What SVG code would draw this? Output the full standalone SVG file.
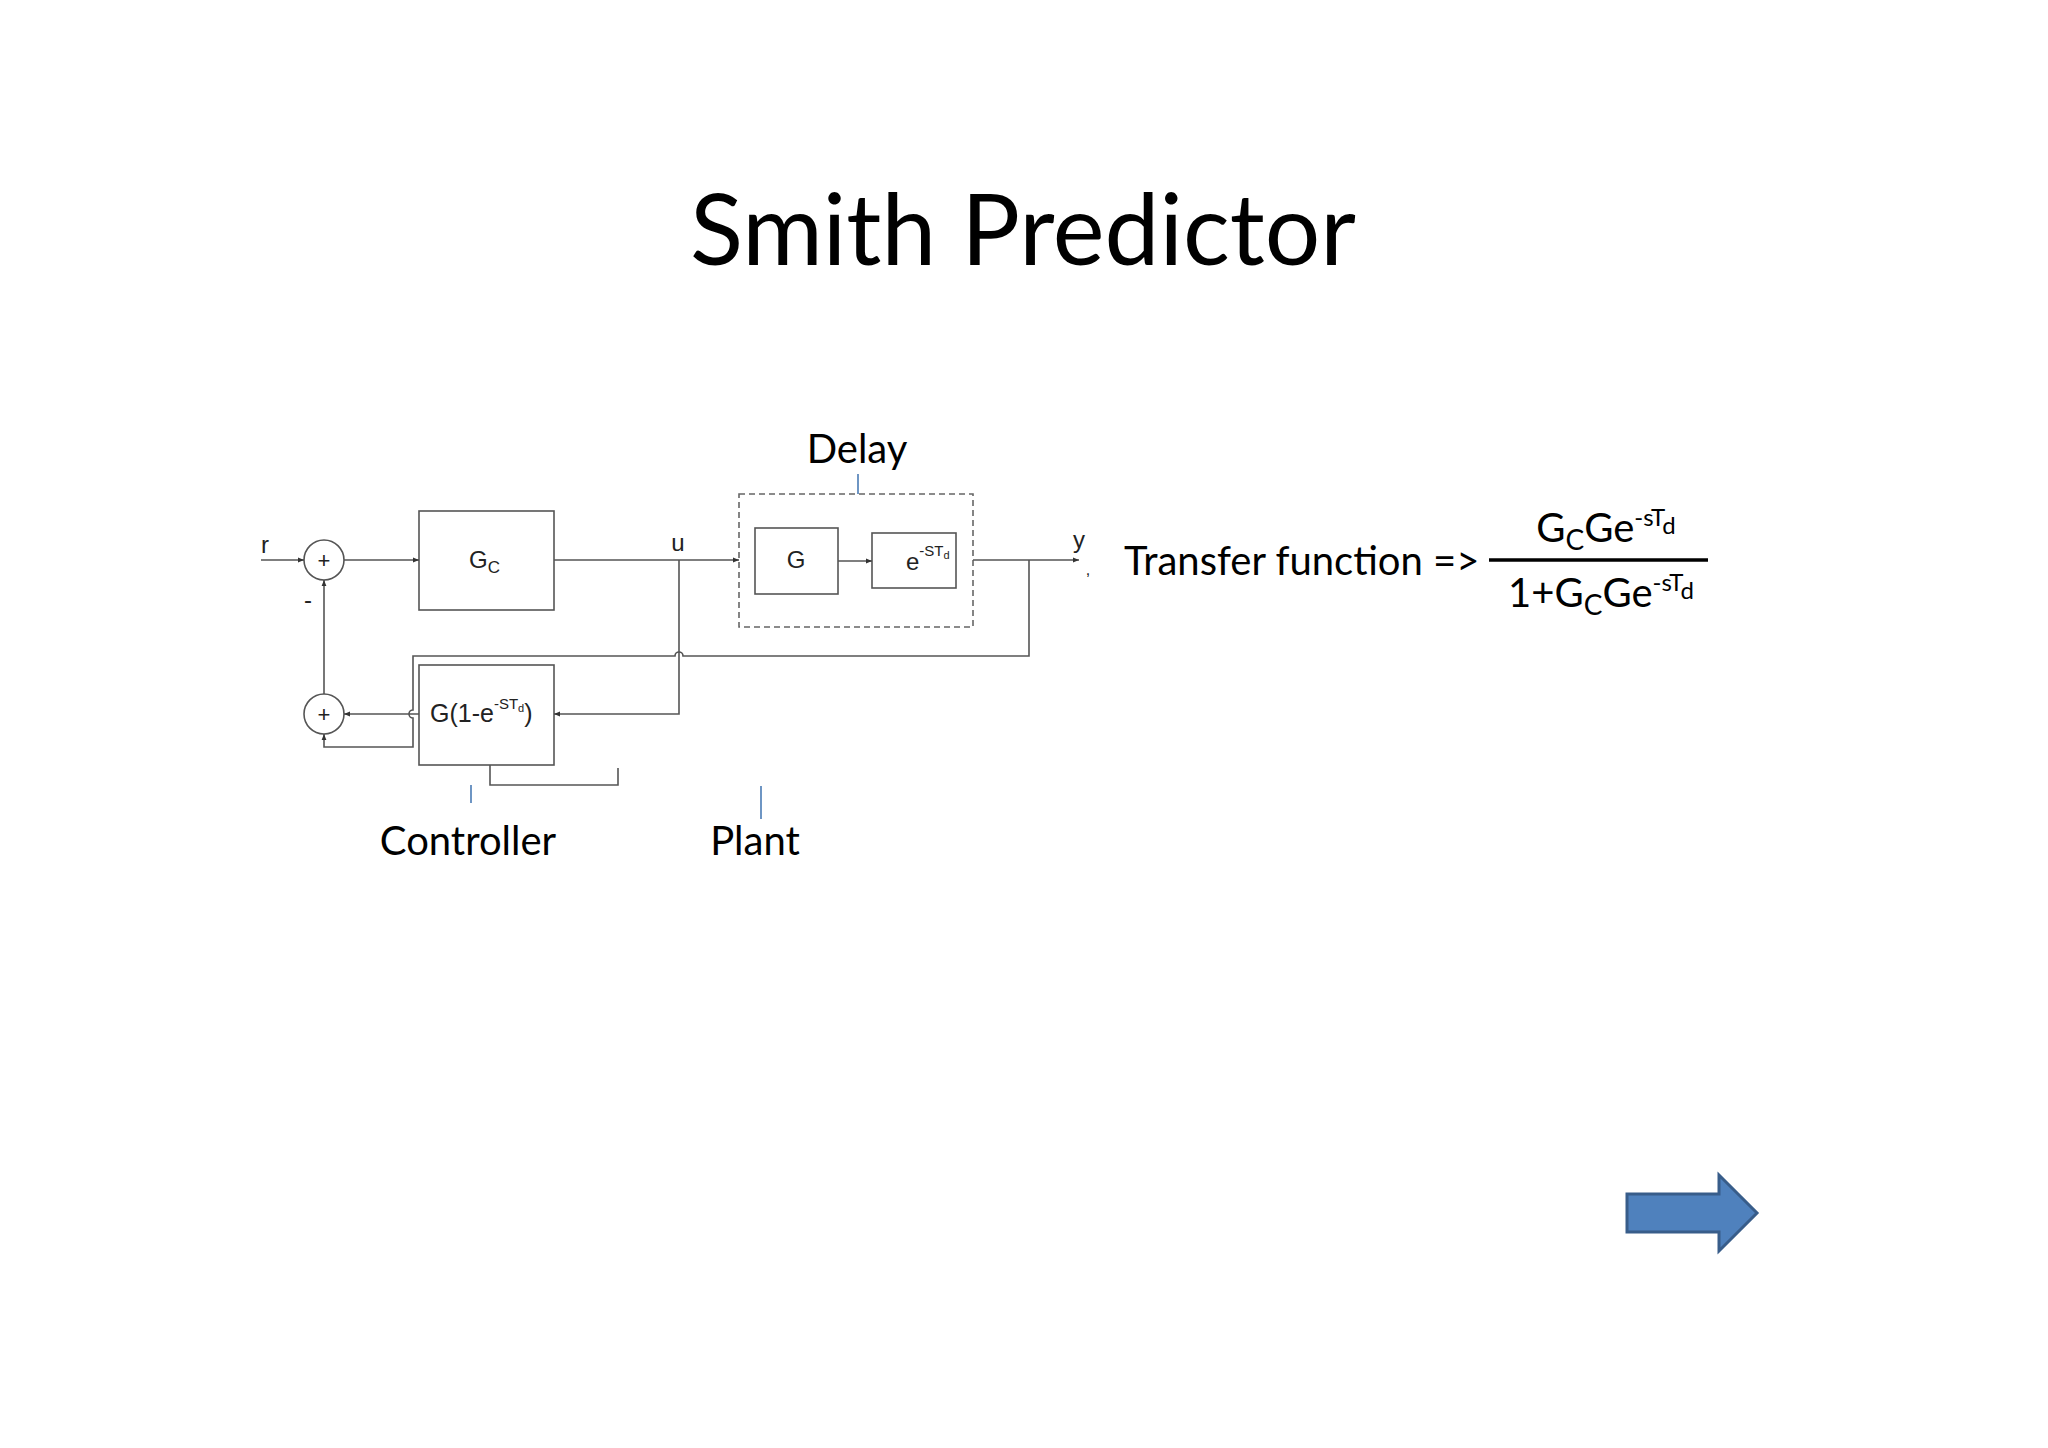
<svg xmlns="http://www.w3.org/2000/svg" width="2048" height="1448" viewBox="0 0 2048 1448">
<style>
.t{font-family:Lato,"Open Sans",sans-serif;fill:#000}
.a{font-family:"Liberation Sans",Arial,sans-serif;fill:#222}
.b{fill:#fff;stroke:#555;stroke-width:1.6}
.w{fill:none;stroke:#555;stroke-width:1.6}
.tick{stroke:#4a7bb5;stroke-width:1.6}
</style>
<defs>
<marker id="ar" viewBox="0 0 10 10" refX="10" refY="5" markerWidth="6" markerHeight="6" orient="auto" markerUnits="userSpaceOnUse"><path d="M0,1 L10,5 L0,9 z" fill="#333"/></marker>
</defs>
<rect width="2048" height="1448" fill="#fff"/>
<text class="t" x="1023" y="265" font-size="98" text-anchor="middle">Smith Predictor</text>

<g id="sum1"><circle class="b" cx="324" cy="560" r="20"/><text class="a" x="324" y="568" font-size="22" text-anchor="middle">+</text></g>
<g id="sum2"><circle class="b" cx="324" cy="714" r="20"/><text class="a" x="324" y="722" font-size="22" text-anchor="middle">+</text></g>
<g id="gc"><rect class="b" x="419" y="511" width="135" height="99"/><text class="a" x="469" y="568" font-size="24">G<tspan font-size="17" dy="5">C</tspan></text></g>
<g id="delaybox"><rect x="739" y="494" width="234" height="133" fill="none" stroke="#666" stroke-width="1.6" stroke-dasharray="6,4"/></g>
<g id="g"><rect class="b" x="755" y="528" width="83" height="66"/><text class="a" x="796" y="568" font-size="24" text-anchor="middle">G</text></g>
<g id="ed"><rect class="b" x="872" y="533" width="84" height="55"/><text class="a" x="906" y="570" font-size="24">e<tspan font-size="15" dy="-14">-ST</tspan><tspan font-size="11" dy="3">d</tspan></text></g>
<g id="gpred"><rect class="b" x="419" y="665" width="135" height="100"/><text class="a" x="430" y="722" font-size="25">G(1-e<tspan font-size="15" dy="-13">-ST</tspan><tspan font-size="11" dy="3">d</tspan><tspan font-size="25" dy="10">)</tspan></text></g>

<g id="connectors">
<path class="w" d="M261,560 H304" marker-end="url(#ar)"/>
<path class="w" d="M344,560 H419" marker-end="url(#ar)"/>
<path class="w" d="M554,560 H739" marker-end="url(#ar)"/>
<path class="w" d="M838,561 H872" marker-end="url(#ar)"/>
<path class="w" d="M973,560 H1079" marker-end="url(#ar)"/>
<path class="w" d="M1029,560 V656 H683 a4,4 0 0 0 -8,0 H413 V710 a4,4 0 0 0 0,8 V747 H324 V734" marker-end="url(#ar)"/>
<path class="w" d="M679,560 V714 H554" marker-end="url(#ar)"/>
<path class="w" d="M419,714 H344" marker-end="url(#ar)"/>
<path class="w" d="M324,694 V580" marker-end="url(#ar)"/>
<path class="w" d="M490,765 V785 H618 V768"/>
</g>

<text class="a" x="265" y="553" font-size="24" text-anchor="middle">r</text>
<text class="a" x="308" y="608" font-size="24" text-anchor="middle">-</text>
<text class="a" x="678" y="551" font-size="24" text-anchor="middle">u</text>
<text class="a" x="1079" y="548" font-size="24" text-anchor="middle">y</text>
<text class="a" x="1088" y="575" font-size="16" text-anchor="middle">,</text>

<line class="tick" x1="858" y1="474" x2="858" y2="494"/>
<text class="t" x="857" y="463" font-size="40" text-anchor="middle">Delay</text>
<line class="tick" x1="471" y1="785" x2="471" y2="803"/>
<text class="t" x="468" y="855" font-size="40" text-anchor="middle">Controller</text>
<line class="tick" x1="761" y1="786" x2="761" y2="819"/>
<text class="t" x="755" y="855" font-size="40" text-anchor="middle">Plant</text>

<text class="t" x="1124" y="575" font-size="40">Transfer function =&gt;</text>
<line x1="1489" y1="560" x2="1708" y2="560" stroke="#000" stroke-width="3.5"/>
<text class="t" x="1606" y="542" font-size="40" text-anchor="middle">G<tspan font-size="28" dy="8">C</tspan><tspan dy="-8">Ge</tspan><tspan font-size="24" dy="-16">-sT</tspan><tspan font-size="24" dy="8">d</tspan></text>
<text class="t" x="1601" y="607" font-size="40" text-anchor="middle">1+G<tspan font-size="28" dy="8">C</tspan><tspan dy="-8">Ge</tspan><tspan font-size="24" dy="-16">-sT</tspan><tspan font-size="24" dy="8">d</tspan></text>

<g id="nextarrow"><path d="M1627,1194 H1719 V1175 L1757,1213 L1719,1251 V1232 H1627 Z" fill="#4f81bd" stroke="#385d8a" stroke-width="3"/></g>
</svg>
